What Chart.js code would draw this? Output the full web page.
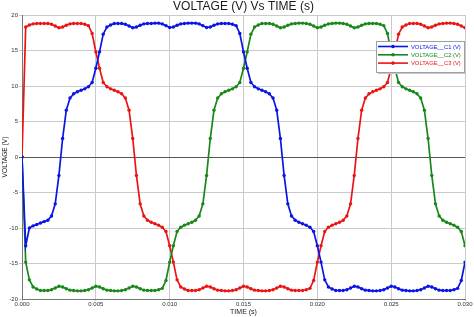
<!DOCTYPE html>
<html>
<head>
<meta charset="utf-8">
<script src="https://cdn.jsdelivr.net/npm/chart.js@4.4.1/dist/chart.umd.min.js"></script>
<style>
  html, body { margin: 0; padding: 0; background: #fff; }
  #chart_canvas { display: block; }
</style>
</head>
<body>
<canvas id="chart_canvas" width="474" height="317"></canvas>
<script>
// time samples (s)
const times = [
  0, 0.00025, 0.0005, 0.00075, 0.001, 0.00125, 0.0015, 0.00175, 0.002, 0.00225,
  0.0025, 0.00275, 0.003, 0.00325, 0.0035, 0.00375, 0.004, 0.00425, 0.0045, 0.00475,
  0.005, 0.00525, 0.0055, 0.00575, 0.006, 0.00625, 0.0065, 0.00675, 0.007, 0.00725,
  0.0075, 0.00775, 0.008, 0.00825, 0.0085, 0.00875, 0.009, 0.00925, 0.0095, 0.00975,
  0.01, 0.01025, 0.0105, 0.01075, 0.011, 0.01125, 0.0115, 0.01175, 0.012, 0.01225,
  0.0125, 0.01275, 0.013, 0.01325, 0.0135, 0.01375, 0.014, 0.01425, 0.0145, 0.01475,
  0.015, 0.01525, 0.0155, 0.01575, 0.016, 0.01625, 0.0165, 0.01675, 0.017, 0.01725,
  0.0175, 0.01775, 0.018, 0.01825, 0.0185, 0.01875, 0.019, 0.01925, 0.0195, 0.01975,
  0.02, 0.02025, 0.0205, 0.02075, 0.021, 0.02125, 0.0215, 0.02175, 0.022, 0.02225,
  0.0225, 0.02275, 0.023, 0.02325, 0.0235, 0.02375, 0.024, 0.02425, 0.0245, 0.02475,
  0.025, 0.02525, 0.0255, 0.02575, 0.026, 0.02625, 0.0265, 0.02675, 0.027, 0.02725,
  0.0275, 0.02775, 0.028, 0.02825, 0.0285, 0.02875, 0.029, 0.02925, 0.0295, 0.02975,
  0.03
];

// VOLTAGE__C1 (V)
const voltageC1 = [
  0, -12.5, -10.0, -9.7, -9.5, -9.3, -9.1, -8.9, -8.3, -6.6,
  -2.6, 2.6, 6.6, 8.3, 8.9, 9.2, 9.4, 9.6, 9.9, 10.5,
  12.5, 14.8, 17.3, 18.3, 18.6, 18.8, 18.8, 18.8, 18.7, 18.45,
  18.2, 18.3, 18.55, 18.75, 18.8, 18.8, 18.85, 18.85, 18.75, 18.5,
  18.25, 18.3, 18.55, 18.75, 18.8, 18.85, 18.85, 18.85, 18.75, 18.5,
  18.25, 18.3, 18.55, 18.75, 18.8, 18.8, 18.8, 18.7, 18.5, 17.4,
  14.8, 12.5, 10.5, 9.9, 9.6, 9.4, 9.2, 8.9, 8.3, 6.6,
  2.6, -2.6, -6.6, -8.3, -8.9, -9.2, -9.4, -9.6, -9.9, -10.5,
  -12.5, -14.8, -17.3, -18.3, -18.6, -18.8, -18.8, -18.8, -18.7, -18.45,
  -18.2, -18.3, -18.55, -18.75, -18.8, -18.85, -18.85, -18.8, -18.7, -18.45,
  -18.2, -18.3, -18.55, -18.75, -18.8, -18.85, -18.85, -18.8, -18.7, -18.45,
  -18.2, -18.3, -18.55, -18.75, -18.8, -18.8, -18.8, -18.7, -18.5, -17.4,
  -14.8
];

// VOLTAGE__C2 (V)
const voltageC2 = [
  0, -14.8, -17.3, -18.3, -18.6, -18.8, -18.8, -18.8, -18.7, -18.45,
  -18.2, -18.3, -18.55, -18.75, -18.8, -18.85, -18.85, -18.8, -18.7, -18.45,
  -18.2, -18.3, -18.55, -18.75, -18.8, -18.85, -18.85, -18.8, -18.7, -18.45,
  -18.2, -18.3, -18.55, -18.75, -18.8, -18.8, -18.8, -18.7, -18.5, -17.4,
  -14.8, -12.5, -10.5, -9.9, -9.6, -9.4, -9.2, -8.9, -8.3, -6.6,
  -2.6, 2.6, 6.6, 8.3, 8.9, 9.2, 9.4, 9.6, 9.9, 10.5,
  12.5, 14.8, 17.3, 18.3, 18.6, 18.8, 18.8, 18.8, 18.7, 18.45,
  18.2, 18.3, 18.55, 18.75, 18.8, 18.85, 18.85, 18.8, 18.7, 18.45,
  18.2, 18.3, 18.55, 18.75, 18.8, 18.85, 18.85, 18.8, 18.7, 18.45,
  18.2, 18.3, 18.55, 18.75, 18.8, 18.8, 18.8, 18.7, 18.5, 17.4,
  14.8, 12.5, 10.5, 9.9, 9.6, 9.4, 9.2, 8.9, 8.3, 6.6,
  2.6, -2.6, -6.6, -8.3, -8.9, -9.2, -9.4, -9.6, -9.9, -10.5,
  -12.5
];

// VOLTAGE__C3 (V)
const voltageC3 = [
  0, 18.3, 18.6, 18.75, 18.8, 18.8, 18.8, 18.8, 18.7, 18.45,
  18.2, 18.3, 18.55, 18.75, 18.8, 18.8, 18.8, 18.7, 18.5, 17.4,
  14.8, 12.5, 10.5, 9.9, 9.6, 9.4, 9.2, 8.9, 8.3, 6.6,
  2.6, -2.6, -6.6, -8.3, -8.9, -9.2, -9.4, -9.6, -9.9, -10.5,
  -12.5, -14.8, -17.3, -18.3, -18.6, -18.8, -18.8, -18.8, -18.7, -18.45,
  -18.2, -18.3, -18.55, -18.75, -18.8, -18.85, -18.85, -18.8, -18.7, -18.45,
  -18.2, -18.3, -18.55, -18.75, -18.8, -18.85, -18.85, -18.8, -18.7, -18.45,
  -18.2, -18.3, -18.55, -18.75, -18.8, -18.8, -18.8, -18.7, -18.5, -17.4,
  -14.8, -12.5, -10.5, -9.9, -9.6, -9.4, -9.2, -8.9, -8.3, -6.6,
  -2.6, 2.6, 6.6, 8.3, 8.9, 9.2, 9.4, 9.6, 9.9, 10.5,
  12.5, 14.8, 17.3, 18.3, 18.6, 18.8, 18.8, 18.8, 18.7, 18.45,
  18.2, 18.3, 18.55, 18.75, 18.8, 18.85, 18.85, 18.8, 18.7, 18.45,
  18.2
];

const seriesLabels = ["VOLTAGE__C1 (V)", "VOLTAGE__C2 (V)", "VOLTAGE__C3 (V)"];
const seriesColors = ["rgb(10, 20, 230)", "rgb(25, 135, 25)", "rgb(235, 20, 20)"];

const chartTitle = "VOLTAGE (V) Vs TIME (s)";
const xTitle = "TIME (s)";
const yTitle = "VOLTAGE (V)";
const FONT = "'Liberation Sans', Arial, sans-serif";

function toPoints(values) {
  return values.map((v, i) => ({ x: times[i], y: v }));
}

// title + in-plot legend box
const decorations = {
  id: "decorations",
  afterDraw(chart) {
    const ctx = chart.ctx;
    const area = chart.chartArea;
    ctx.save();
    ctx.fillStyle = "#1a1a1a";
    ctx.font = "12px " + FONT;
    ctx.textAlign = "center";
    ctx.textBaseline = "middle";
    ctx.fillText(chartTitle, (area.left + area.right) / 2, 7);

    // legend
    const bx = 376, by = 41, bw = 88, bh = 31;
    ctx.fillStyle = "#c8c8c8";
    ctx.fillRect(bx + 2, by + 2, bw, bh);
    ctx.fillStyle = "#fff";
    ctx.fillRect(bx, by, bw, bh);
    ctx.strokeStyle = "#a0a0a0";
    ctx.lineWidth = 1;
    ctx.strokeRect(bx + 0.5, by + 0.5, bw, bh);

    ctx.font = "5.8px " + FONT;
    ctx.textAlign = "left";
    chart.data.datasets.forEach((ds, i) => {
      const y = by + 5.5 + i * 8.3;
      ctx.strokeStyle = ds.borderColor;
      ctx.lineWidth = 1.6;
      ctx.beginPath();
      ctx.moveTo(bx + 2, y);
      ctx.lineTo(bx + 32, y);
      ctx.stroke();
      ctx.fillStyle = ds.borderColor;
      ctx.beginPath();
      ctx.arc(bx + 17, y, 1.8, 0, Math.PI * 2);
      ctx.fill();
      ctx.fillText(ds.label, bx + 35, y + 0.5);
    });
    ctx.restore();
  }
};

const chart = new Chart(document.getElementById("chart_canvas").getContext("2d"), {
  type: "line",
  data: {
    datasets: [0, 1, 2].map(i => ({
      label: seriesLabels[i],
      data: toPoints([voltageC1, voltageC2, voltageC3][i]),
      borderColor: seriesColors[i],
      backgroundColor: seriesColors[i],
      borderWidth: 1.7,
      pointRadius: 1.7,
      pointBorderWidth: 0,
      pointStyle: "circle",
      tension: 0
    }))
  },
  options: {
    responsive: false,
    animation: false,
    devicePixelRatio: 1,
    layout: { padding: { top: 15, right: 9, bottom: 0, left: 0 } },
    plugins: {
      legend: { display: false },
      title: { display: false },
      tooltip: { enabled: false }
    },
    scales: {
      x: {
        type: "linear",
        min: 0,
        max: 0.03,
        afterFit(scale) { scale.height = 18; },
        ticks: {
          stepSize: 0.005,
          maxRotation: 0,
          padding: 0,
          color: "#333",
          font: { family: FONT, size: 6 },
          callback: v => v.toFixed(3)
        },
        grid: { color: "#cacaca", tickLength: 2 },
        border: { color: "#777" },
        title: {
          display: true,
          text: xTitle,
          color: "#222",
          font: { family: FONT, size: 7 },
          padding: { top: 0, bottom: 1 }
        }
      },
      y: {
        min: -20,
        max: 20,
        afterFit(scale) { scale.width = 22; },
        ticks: {
          stepSize: 5,
          padding: 1,
          color: "#333",
          font: { family: FONT, size: 6 }
        },
        grid: {
          color: c => (c.tick && c.tick.value === 0 ? "#555" : "#cacaca"),
          tickLength: 3
        },
        border: { color: "#777" },
        title: {
          display: true,
          text: yTitle,
          color: "#222",
          font: { family: FONT, size: 6.6 },
          padding: { top: 1, bottom: 0 }
        }
      }
    }
  },
  plugins: [decorations]
});
</script>
</body>
</html>
